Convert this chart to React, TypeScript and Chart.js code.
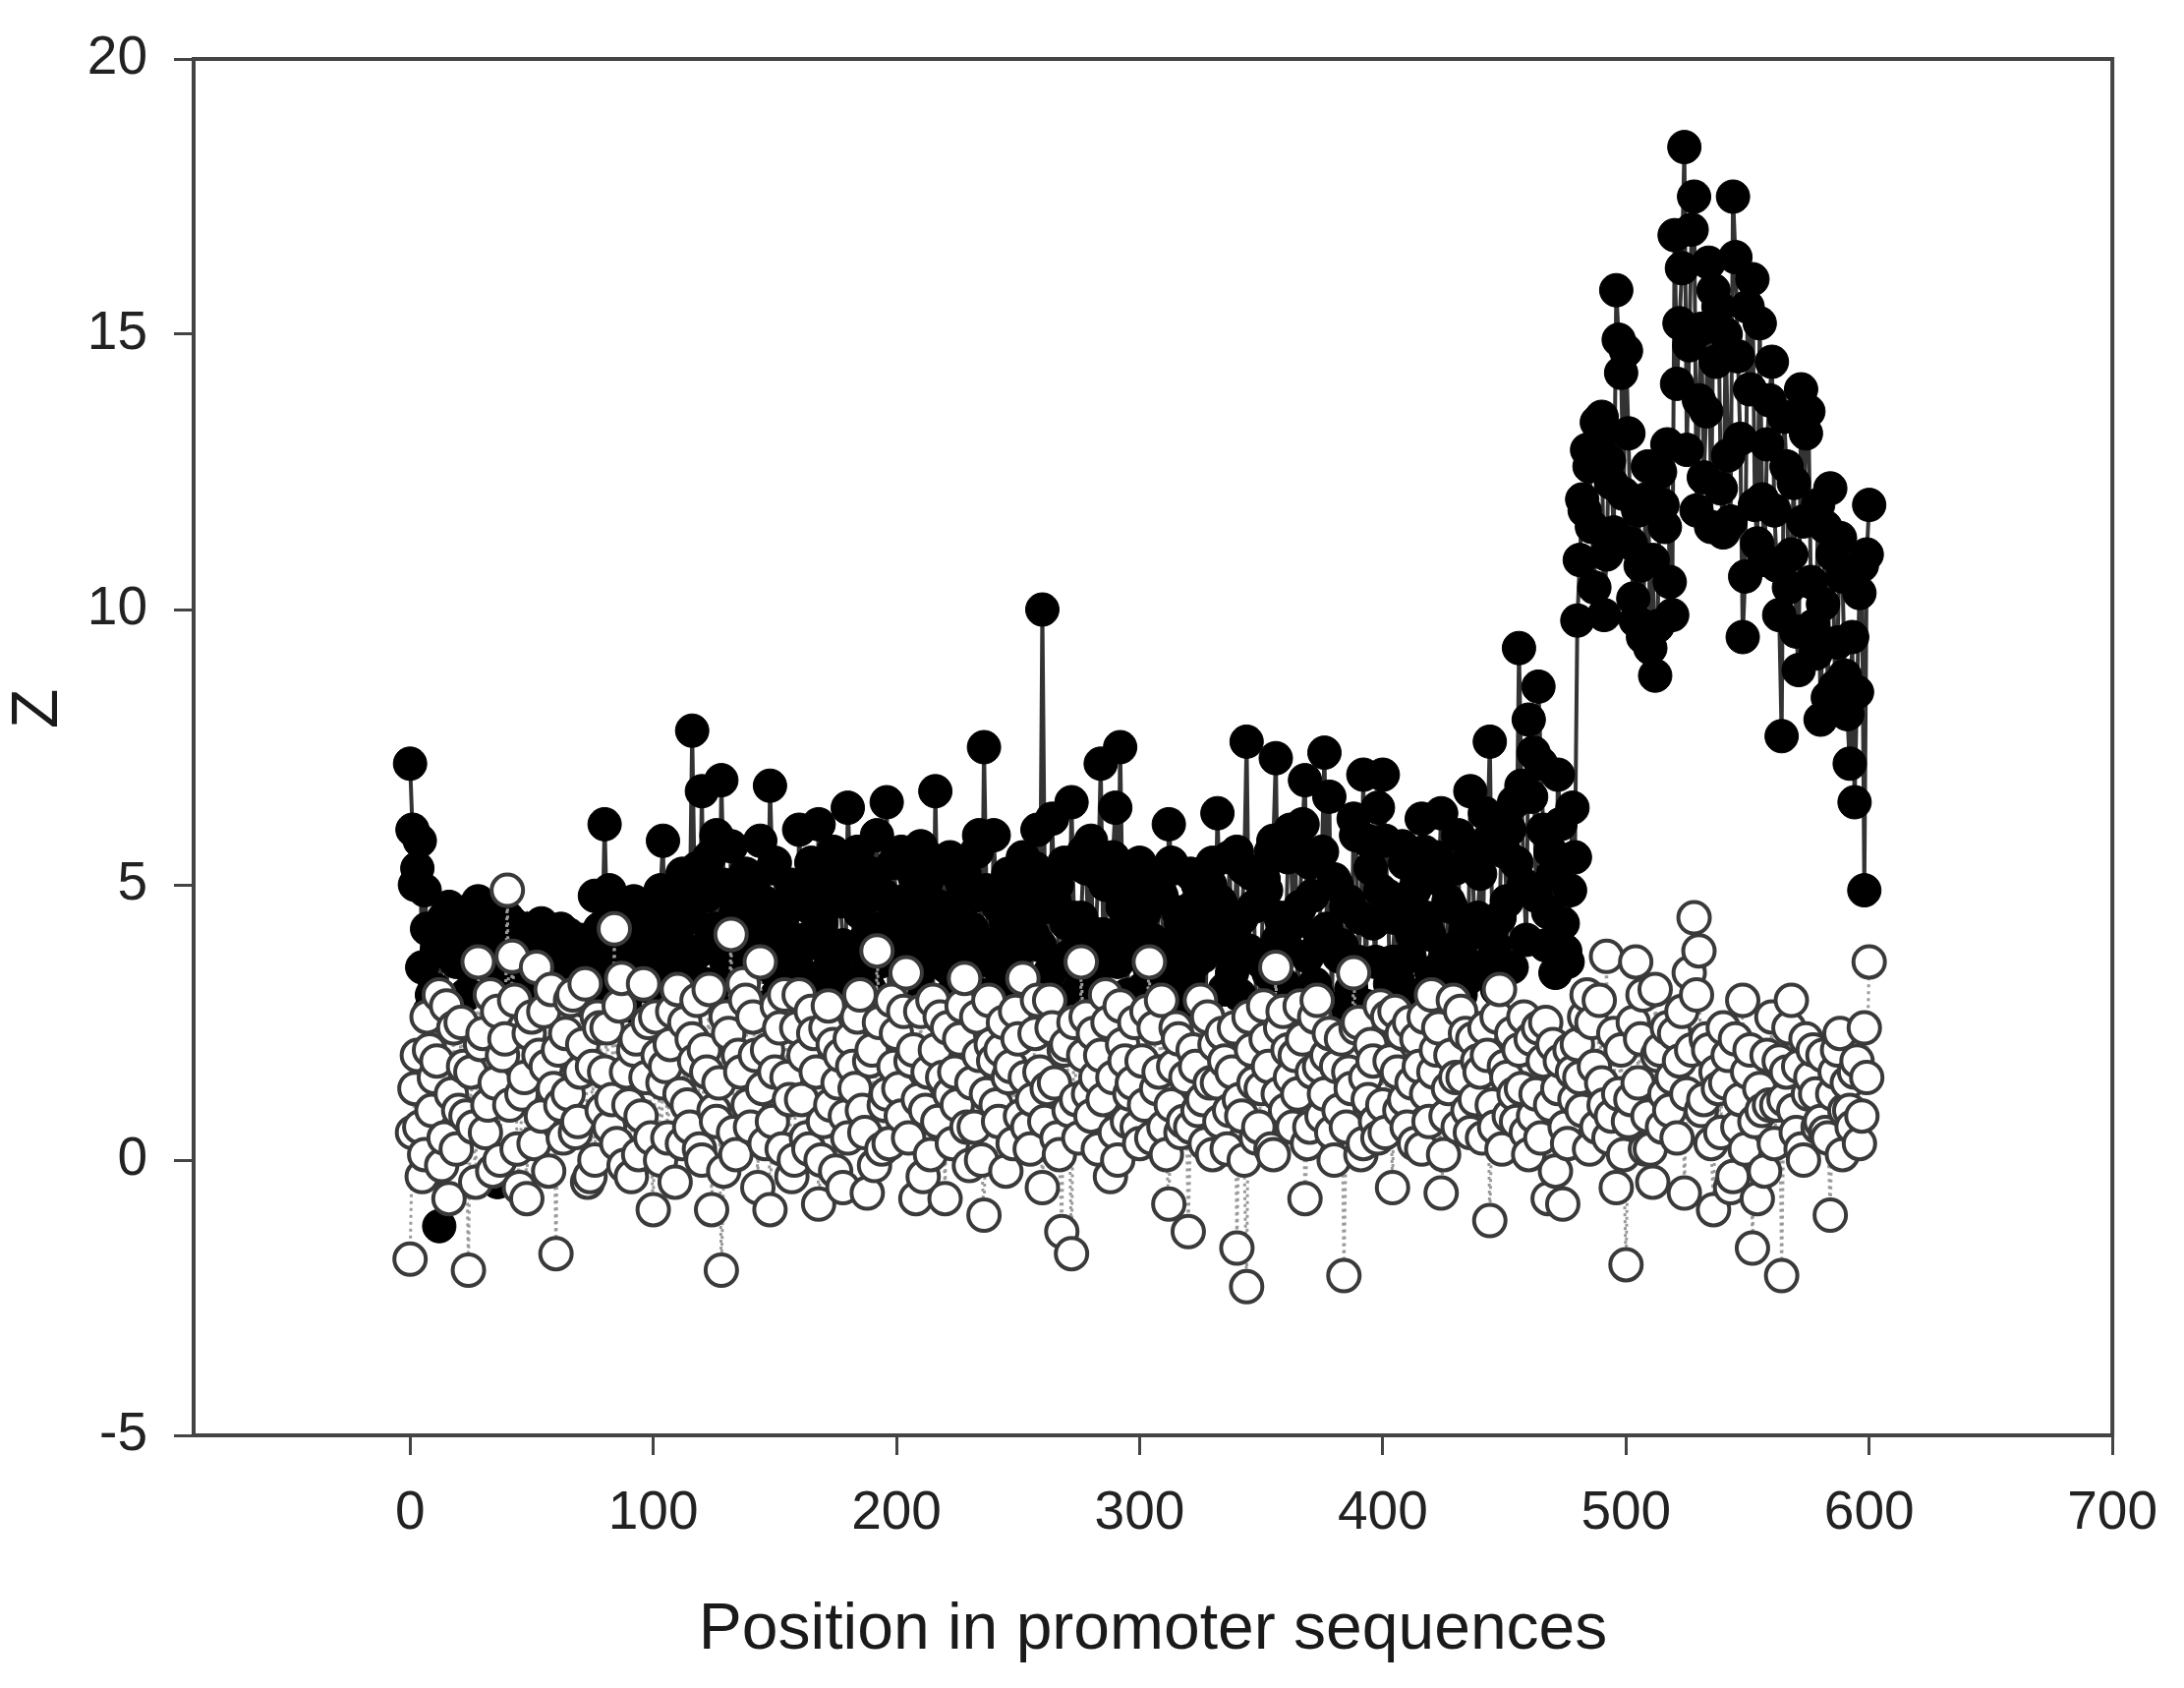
import React, { useEffect, useRef } from "react";
import { Chart, registerables } from "chart.js";

Chart.register(...registerables);

// Even positions along the promoter (0, 2, 4, ... 600)
const evenPositions: number[] = Array.from({ length: 301 }, (_, i) => i * 2);
// Odd positions along the promoter (1, 3, 5, ... 599)
const oddPositions: number[] = Array.from({ length: 300 }, (_, i) => i * 2 + 1);

// Filled series (black circles, solid line) at even positions
const filledZ: number[] = [
  7.2, 5.0, 5.8, 4.9, 2.7, 3.1, -1.2, 4.4, 4.6, 3.7,
  3.9, 4.5, 4.2, 3.4, 4.7, 4.5, 3.5, 4.2, -0.4, 3.7,
  4.4, 4.3, 3.9, 3.5, 4.2, 4.0, 3.6, 4.3, 4.1, 3.8,
  3.4, 4.2, 3.9, 3.6, 3.2, 4.0, 3.8, 3.4, 4.8, 4.2,
  6.1, 4.9, 3.5, 3.9, 4.4, 3.1, 4.7, 4.2, 3.3, 3.9,
  4.5, 3.2, 5.8, 4.6, 3.6, 4.2, 5.2, 3.4, 7.8, 5.3,
  6.7, 4.8, 4.1, 5.9, 6.9, 3.6, 5.7, 4.5, 3.1, 5.2,
  4.9, 3.7, 5.8, 4.4, 6.8, 5.4, 4.0, 3.6, 3.3, 4.8,
  6.0, 4.0, 4.6, 5.3, 6.1, 4.6, 3.8, 5.6, 5.1, 3.9,
  6.4, 4.8, 5.6, 3.8, 3.4, 5.2, 5.9, 4.2, 6.5, 3.7,
  4.6, 5.6, 5.4, 4.2, 3.6, 5.7, 5.0, 3.8, 6.7, 4.6,
  4.3, 5.5, 3.1, 4.0, 5.2, 3.6, 4.8, 5.9, 7.5, 3.9,
  5.9, 4.6, 3.3, 5.2, 4.7, 3.8, 5.5, 4.5, 4.1, 6.0,
  10.0, 4.6, 6.2, 5.0, 3.6, 4.3, 6.5, 3.8, 4.4, 5.3,
  5.8, 4.1, 7.2, 5.0, 3.7, 6.4, 7.5, 4.2, 4.9, 3.9,
  5.4, 4.5, 3.5, 4.8, 5.1, 3.8, 6.1, 5.3, 4.5, 4.0,
  3.3, 4.6, 5.0, 3.7, 4.2, 5.4, 6.3, 4.6, 3.8, 3.4,
  5.6, 4.4, 7.6, 5.2, 2.7, 3.6, 4.9, 5.6, 7.3, 4.4,
  3.9, 6.0, 5.8, 4.6, 6.9, 5.4, 3.2, 4.1, 7.4, 6.6,
  5.1, 3.7, 2.8, 4.7, 6.2, 3.6, 7.0, 5.8, 4.3, 6.4,
  7.0, 4.8, 3.6, 3.3, 5.7, 4.6, 4.1, 5.2, 6.2, 4.4,
  3.4, 5.5, 6.3, 3.8, 4.6, 5.3, 3.0, 4.2, 6.7, 3.5,
  5.2, 6.3, 7.6, 3.9, 4.4, 5.6, 6.0, 6.5, 9.3, 5.0,
  8.0, 7.4, 8.6, 6.0, 4.5, 5.2, 7.0, 4.3, 3.6, 6.4,
  9.8, 12.0, 12.9, 11.5, 13.4, 13.5, 11.0, 12.3, 15.8, 14.3,
  14.7, 11.2, 9.8, 10.8, 12.0, 9.3, 8.8, 12.5, 11.5, 10.5,
  16.8, 15.2, 18.4, 14.8, 17.5, 13.8, 12.4, 16.3, 15.8, 15.5,
  11.4, 12.8, 17.5, 14.6, 9.5, 15.5, 16.0, 11.2, 12.0, 13.0,
  14.5, 10.8, 7.7, 12.6, 11.0, 9.6, 14.0, 13.2, 10.5, 9.2,
  8.0, 11.5, 12.2, 8.6, 11.3, 8.8, 7.2, 6.5, 10.3, 4.9,
  11.9,
];

// Filled series at odd positions
const filledOddZ: number[] = [
  6.0, 5.3, 3.5, 4.2, 3.0, 3.8, 4.3, 2.9, 4.1, 3.6,
  4.1, 3.0, 4.4, 3.8, 4.0, 3.2, 4.6, 3.9, 3.3, 4.0,
  3.6, 4.1, 3.1, 3.9, 3.4, 4.2, 3.0, 3.7, 4.0, 3.3,
  3.7, 3.0, 4.1, 3.5, 3.8, 2.9, 4.0, 3.6, 3.1, 3.9,
  4.3, 3.0, 4.0, 2.8, 3.7, 4.5, 3.4, 2.7, 4.1, 3.5,
  3.8, 4.9, 2.9, 4.0, 3.3, 4.7, 2.6, 4.4, 5.0, 3.8,
  3.2, 5.5, 4.2, 3.0, 5.0, 3.9, 2.7, 4.6, 3.4, 4.1,
  5.1, 2.8, 4.7, 3.5, 5.3, 3.0, 4.4, 2.9, 5.0, 3.7,
  4.9, 3.1, 5.4, 3.3, 4.3, 2.8, 5.0, 3.6, 4.7, 3.2,
  5.3, 2.9, 4.5, 4.0, 3.1, 5.1, 3.6, 4.8, 2.7, 5.4,
  3.9, 4.7, 3.0, 5.2, 3.4, 4.4, 5.5, 2.9, 4.1, 5.3,
  3.5, 4.6, 2.8, 5.0, 3.7, 4.2, 5.6, 3.0, 4.9, 3.6,
  4.8, 2.9, 4.3, 3.6, 5.1, 3.2, 4.6, 2.8, 5.3, 3.9,
  5.0, 3.4, 4.7, 2.9, 5.4, 3.7, 4.4, 3.1, 5.6, 4.0,
  3.3, 5.2, 4.1, 2.8, 5.5, 3.6, 4.6, 3.0, 5.3, 4.2,
  3.1, 5.0, 4.0, 2.7, 4.8, 3.5, 5.4, 3.2, 4.3, 2.9,
  5.2, 3.6, 4.5, 2.8, 5.0, 3.9, 4.7, 3.1, 5.5, 4.2,
  3.0, 5.3, 3.8, 4.6, 2.6, 5.1, 3.4, 5.8, 4.0, 3.2,
  5.5, 4.3, 2.9, 6.1, 3.7, 4.8, 3.0, 5.6, 4.2, 2.7,
  5.0, 3.9, 4.6, 3.1, 5.9, 4.4, 2.8, 5.3, 3.6, 4.9,
  5.8, 3.2, 4.4, 2.9, 5.4, 3.7, 4.9, 3.0, 5.6, 4.1,
  2.8, 5.1, 3.6, 4.7, 3.1, 5.9, 4.0, 3.3, 5.4, 4.4,
  3.4, 5.8, 4.2, 3.1, 6.2, 4.7, 3.5, 5.4, 6.8, 4.0,
  6.6, 4.8, 7.2, 3.9, 5.6, 3.4, 6.1, 3.8, 4.9, 5.5,
  10.9, 11.8, 12.6, 10.4, 13.1, 9.9, 12.7, 11.4, 14.9, 12.1,
  13.2, 10.2, 11.8, 9.5, 12.6, 10.9, 9.7, 11.9, 13.0, 9.9,
  14.1, 16.2, 12.9, 16.9, 11.8, 15.1, 13.6, 11.5, 14.5, 12.2,
  15.0, 11.6, 16.4, 13.1, 10.6, 14.0, 11.9, 15.2, 10.9, 13.8,
  11.8, 9.9, 13.5, 10.4, 12.3, 8.9, 11.6, 13.6, 9.7, 11.9,
  10.1, 8.4, 11.0, 9.4, 10.6, 8.1, 9.5, 8.5, 10.8, 11.0,
];

// Open series (white circles, dotted line) at even positions
const openZ: number[] = [
  -1.8, 1.3, 0.6, 0.1, 2.0, 1.5, 3.0, 0.4, -0.7, 2.4,
  0.9, 1.7, -2.0, 0.6, 3.6, 2.3, 1.0, -0.2, 2.7, 1.9,
  4.9, 3.7, 0.2, 1.2, -0.7, 2.6, 3.5, 0.8, 1.7, 3.1,
  -1.7, 1.0, 2.3, 2.9, 0.5, 1.6, 3.2, -0.3, 0.0, 2.4,
  1.6, 0.6, 4.2, 2.8, -0.1, 1.0, 2.0, 0.1, 3.2, 2.5,
  -0.9, 1.9, 1.4, 0.4, 2.7, 3.1, 0.3, 1.0, 2.2, 2.9,
  0.0, 1.6, -0.9, 0.7, -2.0, 2.6, 4.1, 0.1, 1.6, 2.9,
  0.6, 1.9, 3.6, 0.3, -0.9, 1.6, 2.4, 3.0, 1.1, 0.0,
  3.0, 1.9, 0.2, 2.3, -0.8, 0.7, 2.8, 2.1, 1.4, -0.5,
  0.4, 1.7, 2.6, 0.9, -0.6, 2.0, 3.8, 0.2, 1.2, 2.9,
  2.3, 0.8, 3.4, 1.8, -0.7, 2.7, 0.9, 0.1, 2.0, 2.6,
  -0.7, 1.2, 1.6, 2.2, 3.3, -0.1, 0.6, 1.9, -1.0, 2.9,
  1.8, 0.7, 2.5, 1.5, 0.3, 2.2, 3.3, 0.6, 1.1, 2.9,
  -0.5, 1.3, 2.4, 0.4, -1.3, 2.1, -1.7, 1.1, 3.6, 2.6,
  0.8, 1.5, 1.9, 3.0, -0.3, 0.5, 2.8, 1.8, 1.2, 2.5,
  0.3, 1.0, 3.6, 2.4, 1.6, 0.6, -0.8, 1.7, 2.2, 0.7,
  -1.3, 2.0, 0.9, 1.1, 2.6, 0.1, 1.4, 2.3, 0.2, 1.6,
  -1.6, 0.8, -2.3, 2.0, 0.4, 1.3, 2.2, 0.2, 3.5, 2.4,
  0.9, 1.5, 1.9, 2.8, -0.7, 0.6, 2.6, 1.7, 1.2, 2.3,
  0.0, 0.9, -2.1, 1.6, 3.4, 2.5, 0.3, 1.1, 1.8, 0.4,
  1.0, 2.6, -0.5, 1.6, 2.3, 0.6, 1.4, 2.2, 0.2, 1.2,
  3.0, 2.0, -0.6, 0.8, 1.9, 1.5, 2.7, 2.3, 0.5, 1.1,
  1.6, 2.4, -1.1, 0.6, 3.1, 1.7, 0.8, 1.2, 2.0, 2.6,
  0.1, 0.8, 2.4, 1.8, -0.7, 2.1, 1.3, -0.8, 0.3, 1.6,
  2.1, 0.9, 3.0, 2.5, 0.6, 1.4, 3.7, 0.8, -0.5, 2.0,
  -1.9, 1.1, 3.6, 2.2, 0.2, 0.2, 3.1, 2.0, 1.2, 0.9,
  2.3, 1.8, -0.6, 3.4, 4.4, 3.8, 1.1, 2.0, -0.9, 1.3,
  2.4, 1.9, -0.3, 0.6, 2.9, 1.6, -1.6, -0.7, 0.9, 1.9,
  2.6, 1.0, -2.1, 1.6, 2.9, 0.5, 0.2, 2.2, 1.5, 1.2,
  0.7, 0.5, -1.0, 1.6, 2.3, 0.9, 0.9, 1.6, 0.3, 2.4,
  3.6,
];

// Open series at odd positions
const openOddZ: number[] = [
  0.5, 1.9, -0.3, 2.6, 0.9, 1.8, -0.1, 2.8, 1.2, 0.2,
  2.5, 0.8, 1.6, -0.4, 2.1, 0.5, 3.0, 1.4, 0.0, 2.2,
  1.0, 2.9, -0.5, 1.5, 2.3, 0.3, 1.9, 2.7, -0.2, 1.3,
  2.0, 0.4, 1.2, 3.0, 0.7, 2.1, -0.4, 1.7, 2.6, 0.9,
  2.4, 1.1, 0.3, 3.3, 1.6, -0.3, 2.2, 0.8, 1.5, 0.4,
  2.6, 0.0, 1.7, 2.1, -0.4, 1.2, 2.5, 0.6, 1.8, 0.2,
  2.0, 3.1, 0.9, 1.4, -0.2, 2.3, 0.5, 1.9, 3.2, 1.0,
  2.6, -0.5, 1.3, 2.0, 0.7, 2.8, 0.2, 1.5, -0.3, 2.4,
  1.1, 0.4, 2.7, 1.6, 0.0, 2.4, 1.0, -0.2, 1.9, 0.8,
  2.2, 1.3, 3.0, 0.5, 1.8, -0.1, 2.5, 1.0, 0.3, 1.7,
  1.3, 2.7, 0.4, 2.0, 1.1, -0.3, 1.6, 2.9, 0.7, 1.5,
  2.4, 0.3, 1.0, 2.8, 0.6, 1.4, 2.6, 0.0, 1.2, 2.1,
  1.0, 2.0, -0.2, 1.7, 2.7, 0.8, 1.5, 0.2, 2.3, 1.6,
  0.7, 2.9, 1.4, 0.1, 2.0, 0.9, 2.5, 0.4, 1.9, 1.2,
  2.3, 0.2, 1.1, 2.5, 1.5, 0.0, 2.1, 0.7, 1.4, 0.6,
  1.8, 2.7, 0.4, 1.3, 2.9, 0.1, 1.0, 2.4, 0.5, 1.5,
  0.6, 1.7, 2.9, 0.3, 1.4, 2.1, 0.7, 1.8, 0.9, 2.4,
  1.1, 0.0, 2.6, 1.4, 0.6, 2.8, 1.7, 0.1, 1.2, 2.7,
  2.0, 0.6, 1.2, 2.2, 0.3, 1.6, 2.9, 0.8, 1.9, 0.5,
  1.7, 2.2, 0.6, 1.3, 2.4, 0.1, 1.5, 2.1, 0.7, 2.8,
  0.5, 1.8, 2.7, 0.9, 1.1, 2.5, 0.3, 1.7, 2.6, 0.7,
  1.6, 2.4, 0.1, 1.3, 2.9, 0.6, 1.5, 0.9, 2.2, 1.8,
  0.4, 1.9, 1.0, 2.6, 0.2, 1.5, 2.3, 0.7, 1.3, 0.5,
  2.2, 1.2, 0.4, 2.5, 1.0, -0.2, 1.8, 0.6, 2.0, 1.1,
  1.5, 2.6, 0.2, 1.7, 2.9, 1.0, 0.4, 2.3, 1.2, 0.1,
  0.7, 2.5, 1.4, 3.0, 0.8, -0.4, 1.9, 0.6, 2.4, 1.5,
  0.4, 2.7, 1.2, 2.0, 3.0, 0.9, 2.2, 0.3, 1.6, 0.5,
  1.4, -0.5, 2.2, 1.1, 0.2, 2.0, 0.7, 1.3, -0.2, 1.0,
  0.3, 1.8, 1.1, 2.4, 0.9, 1.7, 0.0, 1.2, 2.0, 0.6,
  1.9, 0.4, 1.2, 2.0, 0.1, 1.4, 0.6, 1.8, 0.8, 1.5,
];

const xTickValues: number[] = [0, 100, 200, 300, 400, 500, 600, 700];
const yTickValues: number[] = [-5, 0, 5, 10, 15, 20];

const W = 2222;
const H = 1717;
const FONT = "'Liberation Sans', Arial, Helvetica, sans-serif";
const AXIS = "#444444";

function mergeSeries(even: number[], odd: number[]) {
  const pts: { x: number; y: number }[] = [];
  evenPositions.forEach((x, i) => {
    pts.push({ x, y: even[i] });
    if (i < oddPositions.length) pts.push({ x: oddPositions[i], y: odd[i] });
  });
  return pts;
}

const framePlugin = {
  id: "frame",
  afterDatasetsDraw(chart: any) {
    const { ctx, chartArea } = chart;
    ctx.save();
    ctx.strokeStyle = AXIS;
    ctx.lineWidth = 4;
    ctx.strokeRect(chartArea.left, chartArea.top, chartArea.right - chartArea.left, chartArea.bottom - chartArea.top);
    ctx.restore();
  },
};

const zTitlePlugin = {
  id: "zTitle",
  afterDraw(chart: any) {
    const { ctx } = chart;
    const y = chart.scales.y.getPixelForValue(8.2);
    ctx.save();
    ctx.fillStyle = "#1a1a1a";
    ctx.font = `66px ${FONT}`;
    ctx.textAlign = "center";
    ctx.textBaseline = "middle";
    ctx.translate(40, y);
    ctx.rotate(-Math.PI / 2);
    ctx.fillText("Z", 0, 0);
    ctx.restore();
  },
};

export default function App() {
  const ref = useRef<HTMLCanvasElement | null>(null);

  useEffect(() => {
    document.body.style.margin = "0";
    document.body.style.overflow = "hidden";
    const canvas = ref.current;
    if (!canvas) return;
    const chart = new Chart(canvas, {
      type: "line",
      data: {
        datasets: [
          {
            label: "open",
            data: mergeSeries(openZ, openOddZ),
            borderColor: "#9a9a9a",
            borderWidth: 3,
            borderDash: [3, 4],
            pointRadius: 16,
            pointBorderWidth: 4,
            pointBorderColor: "#3a3a3a",
            pointBackgroundColor: "#ffffff",
            pointStyle: "circle",
            fill: false,
            tension: 0,
            order: 0,
          },
          {
            label: "filled",
            data: mergeSeries(filledZ, filledOddZ),
            borderColor: "#333333",
            borderWidth: 4,
            pointRadius: 17,
            pointBorderWidth: 1,
            pointBorderColor: "#000000",
            pointBackgroundColor: "#000000",
            pointStyle: "circle",
            fill: false,
            tension: 0,
            order: 1,
          },
        ],
      },
      options: {
        responsive: false,
        animation: false,
        devicePixelRatio: 1,
        layout: { padding: { left: 0, right: 61, top: 46, bottom: 0 } },
        plugins: {
          legend: { display: false },
          tooltip: { enabled: false },
        },
        scales: {
          x: {
            type: "linear",
            min: -89,
            max: 700,
            afterBuildTicks: (scale: any) => {
              scale.ticks = xTickValues.map((v) => ({ value: v }));
            },
            afterFit: (scale: any) => {
              scale.height = 257;
            },
            ticks: {
              font: { family: FONT, size: 55 },
              color: "#222222",
              padding: 27,
              maxRotation: 0,
              autoSkip: false,
            },
            grid: {
              drawOnChartArea: false,
              drawTicks: true,
              tickLength: 20,
              tickWidth: 3,
              tickColor: AXIS,
            },
            border: { display: true, color: AXIS, width: 4 },
            title: {
              display: true,
              text: "Position in promoter sequences",
              font: { family: FONT, size: 66 },
              color: "#1a1a1a",
              padding: { top: 0, bottom: 19 },
            },
          },
          y: {
            type: "linear",
            min: -5,
            max: 20,
            afterBuildTicks: (scale: any) => {
              scale.ticks = yTickValues.map((v) => ({ value: v }));
            },
            afterFit: (scale: any) => {
              scale.width = 197;
            },
            ticks: {
              font: { family: FONT, size: 55 },
              color: "#222222",
              padding: 27,
              autoSkip: false,
            },
            grid: {
              drawOnChartArea: false,
              drawTicks: true,
              tickLength: 20,
              tickWidth: 3,
              tickColor: AXIS,
            },
            border: { display: true, color: AXIS, width: 4 },
            title: { display: false },
          },
        },
      },
      plugins: [framePlugin, zTitlePlugin],
    });
    return () => chart.destroy();
  }, []);

  return (
    <div style={{ position: "absolute", left: 0, top: 0, width: W, height: H, background: "#ffffff" }}>
      <canvas ref={ref} width={W} height={H} style={{ width: W, height: H, display: "block" }} />
    </div>
  );
}
